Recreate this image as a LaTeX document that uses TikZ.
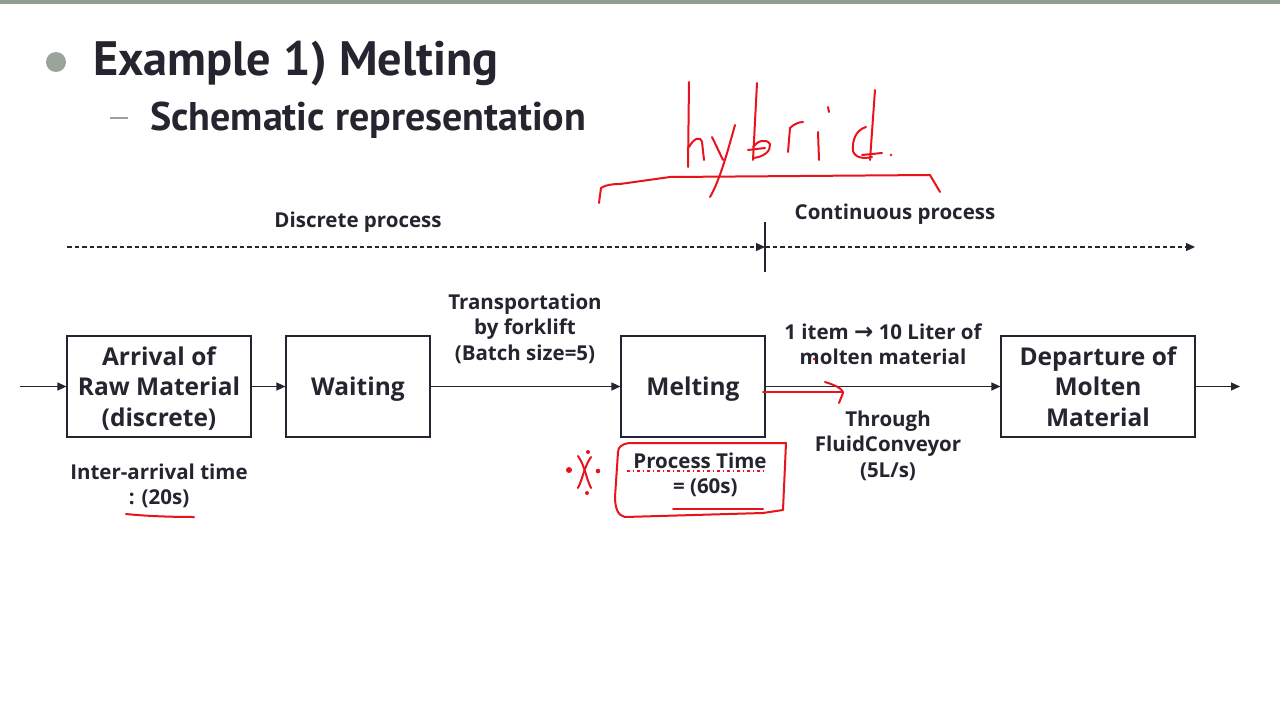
\documentclass[tikz,border=0pt]{standalone}
\usepackage{fontspec}
\setmainfont{Open Sans}
\newfontfamily\hfont{PT Sans}
\newfontfamily\symfont{DejaVu Sans}
\usetikzlibrary{arrows.meta}
\definecolor{inkc}{HTML}{25252F}
\definecolor{penc}{HTML}{E8131B}
\definecolor{barc}{HTML}{8F9E90}
\definecolor{bulc}{HTML}{9AA39A}
\begin{document}
\begin{tikzpicture}[x=1pt,y=-1pt,
  box/.style={draw=inkc,line width=1.2pt,minimum height=101pt,align=center,text depth=0pt,
    font=\fontsize{24.5}{30.5}\selectfont\bfseries,text=inkc,inner sep=0pt},
  lab/.style={align=center,text depth=0pt,font=\fontsize{20.5}{25.5}\selectfont\bfseries,text=inkc,inner sep=0pt},
  flow/.style={draw=inkc,line width=1.2pt,-{Triangle[length=9pt,width=8pt]}},
  dflow/.style={draw=inkc,line width=1.2pt,dash pattern=on 4.5pt off 3pt,-{Triangle[length=9pt,width=8pt]}},
  redpen/.style={draw=penc,line width=2pt,line cap=round,line join=round}
]
\path[use as bounding box,fill=white] (0,0) rectangle (1280,720);
\fill[barc] (0,0) rectangle (1280,3.5);
% headings
\fill[bulc] (56,62) circle (10);
\node[anchor=base west,inner sep=0pt,text=inkc,font=\hfont\fontsize{48.3}{48}\selectfont\bfseries] (title) at (93,75) {Example 1) Melting};
\draw[bulc,line width=1.5pt] (110,118) -- (128,118);
\node[anchor=base west,inner sep=0pt,text=inkc,font=\hfont\fontsize{40}{40}\selectfont\bfseries] (sub) at (150,130) {Schematic representation};
% timeline
\coordinate (d0) at (67,247);
\coordinate (dm) at (765,247);
\coordinate (d1) at (1195,247);
\coordinate (vt) at (765,222);
\coordinate (vb) at (765,272);
\draw[dflow] (d0) -- (dm);
\draw[dflow] (dm) -- (d1);
\draw[inkc,line width=1.2pt] (vt) -- (vb);
\node[lab] (disc) at (358,220) {Discrete process};
\node[lab] (cont) at (895,212) {Continuous process};
% boxes
\node[box,minimum width=184pt] (b1) at (159,386.5) {Arrival of\\Raw Material\\(discrete)};
\node[box,minimum width=144pt] (b2) at (358,386.5) {Waiting};
\node[box,minimum width=144pt] (b3) at (693,386.5) {Melting};
\node[box,minimum width=194pt] (b4) at (1098,386.5) {Departure of\\Molten\\Material};
\coordinate (in) at (20,386.5);
\coordinate (out) at (1240,386.5);
\draw[flow] (in) -- (b1);
\draw[flow] (b1) -- (b2);
\draw[flow] (b2) -- (b3);
\draw[flow] (b3) -- (b4);
\draw[flow] (b4) -- (out);
% labels
\node[lab] (trans) at (525,327) {Transportation\\by forklift\\(Batch size=5)};
\node[lab] (item) at (883,344) {1 item {\symfont\fontsize{23}{23}\selectfont →} 10 Liter of\\molten material};
\node[lab] (thru) at (888,444) {Through\\FluidConveyor\\(5L/s)};
\node[lab] (iat) at (159,484) {Inter-arrival time\\: (20s)};
\node[lab] (ptime) at (700,473) {Process Time\\\ \ = (60s)};
% red handwriting: hybrid.
\draw[redpen] (689,82) -- (688,167);
\draw[redpen] (689,147) .. controls (694,138) and (700,136) .. (702,142) -- (704,160);
\draw[redpen] (712,137) -- (723,160);
\draw[redpen] (735,125) .. controls (728,150) and (720,180) .. (710,197);
\draw[redpen] (757,83) -- (753,160);
\draw[redpen] (753,147) .. controls (757,141) and (766,138) .. (770,144) .. controls (771,151) and (764,157) .. (753,158);
\draw[redpen] (748,150) -- (765,148);
\draw[redpen] (788,152) -- (790,128) .. controls (794,124) and (799,122) .. (803,122);
\draw[redpen] (818,132) -- (819,160);
\draw[redpen] (828,107) -- (829,112);
\draw[redpen] (875,90) -- (870,160);
\draw[redpen] (866,127) .. controls (856,130) and (852,140) .. (853,151) .. controls (855,158) and (864,159) .. (872,157);
\draw[redpen] (862,155) -- (882,153);
\fill[penc] (891,155) circle (1.3);
% bracket
\draw[redpen] (599,203) -- (601,188) .. controls (605,185) and (612,184) .. (620,184) -- (670,177) -- (930,175) -- (940,192);
% underline inter-arrival
\draw[redpen] (126,514) .. controls (145,516) and (170,517) .. (194,517);
% process time box
\draw[redpen] (629,443) .. controls (622,444) and (618,447) .. (618,452) -- (615,497) .. controls (615,508) and (618,516) .. (625,517) -- (763,513) -- (783,510) -- (786,443) -- cycle;
\draw[redpen] (673,509) -- (763,509);
\draw[penc,line width=1.4pt,dash pattern=on 3pt off 3pt on 1pt off 3pt] (627,471) -- (765,471);
% X mark
\draw[redpen] (578,456) .. controls (585,466) and (586,478) .. (591,488);
\draw[redpen] (591,457) .. controls (584,467) and (583,478) .. (578,488);
\fill[penc] (569,470) circle (3);
\fill[penc] (598,471) circle (2.3);
\fill[penc] (588,452) circle (2);
\fill[penc] (587,493) circle (2);
% red arrow on conveyor line
\draw[redpen] (763,392) -- (843,392);
\draw[redpen] (825,382) .. controls (835,385) and (843,389) .. (843,393) -- (839,403);
\fill[penc] (814,359) circle (1.5);
\end{tikzpicture}
\end{document}
